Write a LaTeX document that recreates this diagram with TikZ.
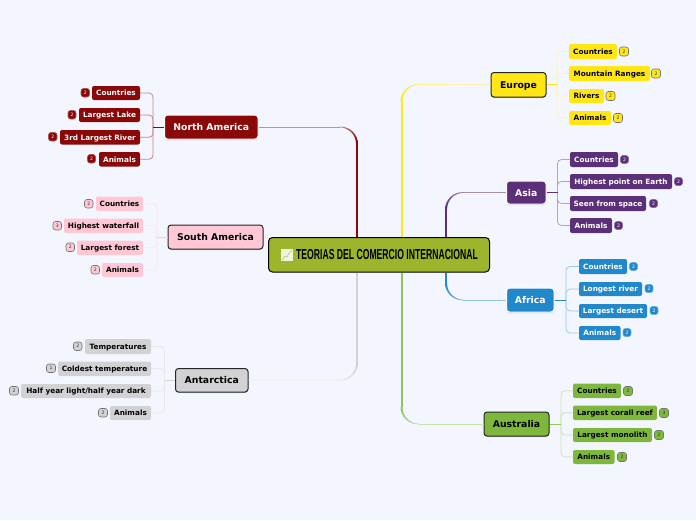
\documentclass[tikz,border=0pt]{standalone}
\usepackage{fontspec}
\setmainfont{DejaVu Sans}
\newfontfamily\titlefont[BoldFont=*,FakeStretch=0.595]{Liberation Sans Bold}
\usetikzlibrary{calc,shadows}
\definecolor{bgc}{HTML}{F3F6FF}
\definecolor{ttl}{HTML}{9DB52C}
\definecolor{eu}{HTML}{FFE614}
\definecolor{as}{HTML}{5C3078}
\definecolor{af}{HTML}{2288CC}
\definecolor{au}{HTML}{7DB83C}
\definecolor{na}{HTML}{8A0808}
\definecolor{sa}{HTML}{FFC8D4}
\definecolor{an}{HTML}{D2D2D4}
\tikzset{
  branchbox/.style={rounded corners=3pt,line width=1pt,inner sep=0pt,text height=7.6pt,text depth=.6pt,font=\fontsize{9.3}{10}\selectfont\bfseries,
    drop shadow={shadow xshift=0pt,shadow yshift=-1pt,fill=black!50,opacity=.45}},
  leafbox/.style={rounded corners=2pt,inner sep=0pt,text height=6.2pt,text depth=.6pt,font=\fontsize{7.3}{9}\selectfont\bfseries},
  badgebox/.style={rounded corners=2.5pt,inner sep=0pt,line width=.6pt,font=\fontsize{4.6}{5}\selectfont,minimum width=9pt,minimum height=9pt},
  dk/.style={fill=#1,draw=black!85,text=black},
  wh/.style={fill=#1,draw=white,text=white},
  lfd/.style={fill=#1,text=black},
  lfw/.style={fill=#1,text=white},
  bdd/.style={fill=#1,draw=black!55,text=black!80},
  bdw/.style={fill=#1,draw=#1!70!white,text=white},
  stem/.style={line width=1pt,draw=#1},
  twig/.style={line width=.8pt,draw=#1,rounded corners=4pt},
}
% box: name, x1, x2, y1, y2, style, text
\newcommand\bx[7]{\node[#6,minimum width={(#3-#2)*1pt},minimum height={(#5-#4)*1pt}] (#1) at ({(#2+#3)/2},{(#4+#5)/2}) {#7};}
% main connector: from node anchor, trunk x, y, sx, sy, title anchor, colour, start percent
\newcommand\mainc[8]{%
  \coordinate (C) at (#2,#3);
  \draw[line width=.7pt,draw=#7!#8!white] (#1) -- ($(C)+({#4*17},0)$);
  \foreach \i in {1,...,8}{
    \pgfmathsetmacro\aa{(\i-1)*11.25}
    \pgfmathsetmacro\ab{\i*11.25}
    \pgfmathtruncatemacro\pp{#8+(100-#8)*\i/8}
    \pgfmathsetmacro\ww{.7+1.3*\i/8}
    \draw[line width=\ww pt,line cap=round,draw=#7!\pp!white]
      ($(C)+({#4*17*(1-sin(\aa))},{#5*17*(1-cos(\aa))})$) -- ($(C)+({#4*17*(1-sin(\ab))},{#5*17*(1-cos(\ab))})$);
  }
  \draw[line width=2pt,draw=#7] ($(C)+(0,{#5*17})$) -- (C |- #6);
}
% twigs: branch node anchor, trunk x, colour stem, colour twig, leaves
\newcommand\twigs[5]{%
  \coordinate (T) at (#2,0 |- #1);
  \foreach \l in {#5}{\draw[twig=#4] (T) |- (\l);}
  \draw[stem=#3] (#1) -- (T);
}
\begin{document}
\begin{tikzpicture}[x=1pt,y=-1pt]
\useasboundingbox (0,0) rectangle (696,520);
\fill[bgc] (0,0) rectangle (696,520);

% title
\bx{title}{268.5}{489.5}{237.5}{272}{rounded corners=4pt,fill=ttl,draw=black,line width=1pt,inner sep=0pt,font=\fontsize{14.5}{16}\titlefont\bfseries,text=black}{\hspace*{16pt}TEORIAS DEL COMERCIO INTERNACIONAL}
\fill[white!85!ttl] (281,249) rectangle (293,261);
\draw[au!70!white,line width=.6pt] (282,260) -- (285,256) -- (287,257) -- (289,253) -- (292,250);

% branches
\bx{europe}{491}{546}{72.5}{97}{branchbox,dk=eu}{Europe}
\bx{asia}{506.5}{546}{181}{204}{branchbox,wh=as}{Asia}
\bx{africa}{506.5}{554}{288}{312}{branchbox,wh=af}{Africa}
\bx{australia}{484}{549}{412}{436}{branchbox,dk=au}{Australia}
\bx{namerica}{164.5}{258}{115}{139}{branchbox,wh=na}{North America}
\bx{samerica}{168}{263}{225}{249}{branchbox,dk=sa}{South America}
\bx{antarctica}{175.5}{248}{368.5}{392}{branchbox,dk=an}{Antarctica}

% Europe leaves
\bx{e1}{569}{617}{44}{59}{leafbox,lfd=eu}{Countries}
\bx{e2}{569}{650}{66}{81}{leafbox,lfd=eu}{Mountain Ranges}
\bx{e3}{569}{604}{89}{103}{leafbox,lfd=eu}{Rivers}
\bx{e4}{569}{611}{111}{125}{leafbox,lfd=eu}{Animals}
\bx{e1b}{619.5}{628.5}{47}{56}{badgebox,bdd=eu}{2}
\bx{e2b}{651.5}{660.5}{69}{78}{badgebox,bdd=eu}{2}
\bx{e3b}{606}{615}{91.5}{100.5}{badgebox,bdd=eu}{2}
\bx{e4b}{613.5}{622.5}{113.5}{122.5}{badgebox,bdd=eu}{2}
% Asia leaves
\bx{s1}{570}{618}{152}{167}{leafbox,lfw=as}{Countries}
\bx{s2}{570}{672}{174}{189}{leafbox,lfw=as}{Highest point on Earth}
\bx{s3}{570}{646}{196}{211}{leafbox,lfw=as}{Seen from space}
\bx{s4}{570}{612}{218}{233}{leafbox,lfw=as}{Animals}
\bx{s1b}{620.5}{628.5}{155.5}{163.5}{badgebox,bdw=as}{2}
\bx{s2b}{674.5}{682.5}{177.5}{185.5}{badgebox,bdw=as}{2}
\bx{s3b}{649.5}{657.5}{199.5}{207.5}{badgebox,bdw=as}{2}
\bx{s4b}{614.5}{622.5}{221.5}{229.5}{badgebox,bdw=as}{2}
% Africa leaves
\bx{f1}{579}{627}{259}{274}{leafbox,lfw=af}{Countries}
\bx{f2}{579}{642}{282}{296}{leafbox,lfw=af}{Longest river}
\bx{f3}{579}{647}{304}{318}{leafbox,lfw=af}{Largest desert}
\bx{f4}{579}{620.5}{326}{340}{leafbox,lfw=af}{Animals}
\bx{f1b}{629.5}{637.5}{262.5}{270.5}{badgebox,bdw=af}{2}
\bx{f2b}{645}{653}{284.5}{292.5}{badgebox,bdw=af}{2}
\bx{f3b}{650}{658}{306.5}{314.5}{badgebox,bdw=af}{2}
\bx{f4b}{623}{631}{328.5}{336.5}{badgebox,bdw=af}{2}
% Australia leaves
\bx{u1}{573}{621}{383.5}{398}{leafbox,lfd=au}{Countries}
\bx{u2}{573}{657}{405.5}{420}{leafbox,lfd=au}{Largest corall reef}
\bx{u3}{573}{652}{428}{442}{leafbox,lfd=au}{Largest monolith}
\bx{u4}{573}{614.5}{450}{464}{leafbox,lfd=au}{Animals}
\bx{u1b}{623.5}{632.5}{386.5}{395.5}{badgebox,bdd=au}{2}
\bx{u2b}{659.5}{668.5}{408.5}{417.5}{badgebox,bdd=au}{3}
\bx{u3b}{654.5}{663.5}{430.5}{439.5}{badgebox,bdd=au}{2}
\bx{u4b}{617.5}{626.5}{452.5}{461.5}{badgebox,bdd=au}{2}
% North America leaves
\bx{n1}{92}{140}{86}{100}{leafbox,lfw=na}{Countries}
\bx{n2}{79}{140}{108}{122}{leafbox,lfw=na}{Largest Lake}
\bx{n3}{60}{140}{130}{144.5}{leafbox,lfw=na}{3rd Largest River}
\bx{n4}{99}{140}{152}{166.5}{leafbox,lfw=na}{Animals}
\bx{n1b}{81}{89.5}{88.5}{97}{badgebox,bdw=na}{2}
\bx{n2b}{68}{76}{110.5}{119}{badgebox,bdw=na}{2}
\bx{n3b}{48.5}{57}{132.5}{141}{badgebox,bdw=na}{2}
\bx{n4b}{87.5}{95.5}{154.5}{163}{badgebox,bdw=na}{2}
% South America leaves
\bx{a1}{96}{143}{196.5}{211}{leafbox,lfd=sa}{Countries}
\bx{a2}{64}{143}{218.5}{233}{leafbox,lfd=sa}{Highest waterfall}
\bx{a3}{77}{143}{240.5}{255}{leafbox,lfd=sa}{Largest forest}
\bx{a4}{102}{143}{263}{277}{leafbox,lfd=sa}{Animals}
\bx{a1b}{84.5}{93}{199.5}{208}{badgebox,bdd=sa}{2}
\bx{a2b}{53}{61.5}{221.5}{230}{badgebox,bdd=sa}{3}
\bx{a3b}{66}{74.5}{243}{251.5}{badgebox,bdd=sa}{2}
\bx{a4b}{91}{99.5}{265.5}{274}{badgebox,bdd=sa}{2}
% Antarctica leaves
\bx{t1}{85}{151}{339}{354}{leafbox,lfd=an}{Temperatures}
\bx{t2}{58}{151}{361.5}{376}{leafbox,lfd=an}{Coldest temperature}
\bx{t3}{21}{151}{384}{398}{leafbox,lfd=an}{Half year light/half year dark}
\bx{t4}{110}{151}{406}{420}{leafbox,lfd=an}{Animals}
\bx{t1b}{73.5}{82}{342}{350.5}{badgebox,bdd=an}{2}
\bx{t2b}{46.5}{55.5}{364}{372.5}{badgebox,bdd=an}{1}
\bx{t3b}{9.5}{18.5}{386.5}{395}{badgebox,bdd=an}{2}
\bx{t4b}{98.5}{107.5}{408.5}{417}{badgebox,bdd=an}{2}

% main connectors
\mainc{namerica.east}{357}{127}{-1}{1}{title.north}{na}{45}
\mainc{antarctica.east}{357}{380}{-1}{-1}{title.south}{an}{40}
\mainc{europe.west}{401.5}{84.5}{1}{1}{title.north}{eu}{50}
\mainc{australia.west}{401.5}{424}{1}{-1}{title.south}{au!85!white}{50}
\mainc{asia.west}{446}{192.5}{1}{1}{title.north}{as}{55}
\mainc{africa.west}{446}{300}{1}{-1}{title.south}{af}{50}
\draw[line width=.7pt,draw=sa!60!white] (samerica.east |- 0,237) -- (title.west |- 0,237);

% twigs
\twigs{europe.east}{557}{eu}{eu!40!white}{e1.west,e2.west,e3.west,e4.west}
\twigs{asia.east}{557.5}{as}{as!45!white}{s1.west,s2.west,s3.west,s4.west}
\twigs{africa.east}{566}{af}{af!45!white}{f1.west,f2.west,f3.west,f4.west}
\twigs{australia.east}{561}{au!80!white}{au!40!white}{u1.west,u2.west,u3.west,u4.west}
\twigs{namerica.west}{153}{na}{na!50!white}{n1.east,n2.east,n3.east,n4.east}
\twigs{samerica.west}{157}{sa}{sa!50!white}{a1.east,a2.east,a3.east,a4.east}
\twigs{antarctica.west}{164.5}{an}{an!50!white}{t1.east,t2.east,t3.east,t4.east}
\end{tikzpicture}
\end{document}
